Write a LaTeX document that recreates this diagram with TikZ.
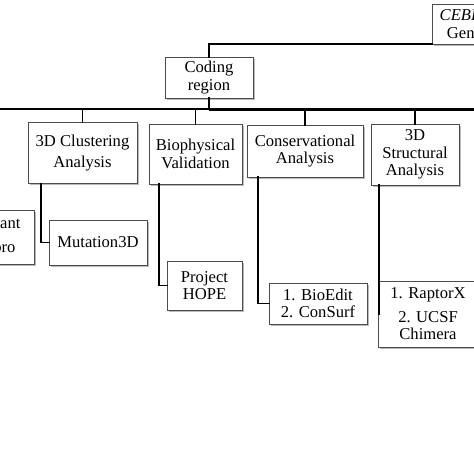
\documentclass[tikz,border=0pt]{standalone}
\usepackage{fontspec}
\setmainfont{Liberation Serif}
\usetikzlibrary{shadows}
\begin{document}
\begin{tikzpicture}[x=1pt,y=-1pt,
  box/.style={draw=black!70, line width=0.7pt, fill=white, align=center, inner sep=0pt,
    font=\fontsize{16.6}{17.5}\selectfont,
    drop shadow={shadow xshift=1.6pt, shadow yshift=-1.8pt, fill=black!45, opacity=0.6}},
  conn/.style={line width=1.8pt, line cap=rect}]
\useasboundingbox (0,0) rectangle (474,474);
\clip (0,0) rectangle (474,474);
\node[box, minimum width=65pt, minimum height=40pt] (gene) at (464.5,24) {\textit{CEBPA}\\Gene};
\node[box, minimum width=88pt, minimum height=41pt] (coding) at (209,77.5) {Coding\\region};
\node[box, minimum width=109pt, minimum height=61pt] (clust) at (82.5,153) {3D Clustering\\[4pt]Analysis};
\node[box, minimum width=93pt, minimum height=60pt] (bio) at (195.5,154) {Biophysical\\Validation};
\node[box, minimum width=116pt, minimum height=52pt] (cons) at (305,151) {Conservational\\Analysis};
\node[box, minimum width=88pt, minimum height=61pt] (struct) at (415,154.5) {3D\\Structural\\Analysis};
\node[box, minimum width=86pt, minimum height=54pt] (left) at (-9,237) {I-Mutant\\[6pt]MUpro};
\node[box, minimum width=98pt, minimum height=45pt] (mut) at (98,242.5) {Mutation3D};
\node[box, minimum width=75pt, minimum height=49pt] (hope) at (204.5,285.5) {Project\\HOPE};
\node[box, minimum width=98pt, minimum height=41pt] (bioedit) at (318,303.5) {1. BioEdit\\2. ConSurf};
\node[box, minimum width=100pt, minimum height=66pt] (raptor) at (428,314) {1. RaptorX\\[6pt]2. UCSF\\Chimera};
\coordinate (busL) at (0,109);
\coordinate (busR) at (474,109);
\coordinate (busC) at (coding.south |- busL);
\draw[conn] (gene.south west) -| (coding.north);
\draw[conn] (coding.south) -- (busC);
\draw[line width=2pt] (busL) -- (busC);
\draw[line width=3pt] (busC) -- (busR);
\draw[conn] (clust.north) -- (clust.north |- busL);
\draw[conn] (bio.north) -- (bio.north |- busL);
\draw[conn] (cons.north) -- (cons.north |- busL);
\draw[conn] (struct.north) -- (struct.north |- busL);
\draw[conn] ([xshift=13pt]clust.south west) |- (mut.west);
\draw[conn] ([xshift=10pt]bio.south west) |- (hope.west);
\draw[conn] ([xshift=11pt]cons.south west) |- (bioedit.west);
\draw[conn] ([xshift=8pt]struct.south west) -- ([xshift=8pt]struct.south west |- raptor.west);
\end{tikzpicture}
\end{document}
